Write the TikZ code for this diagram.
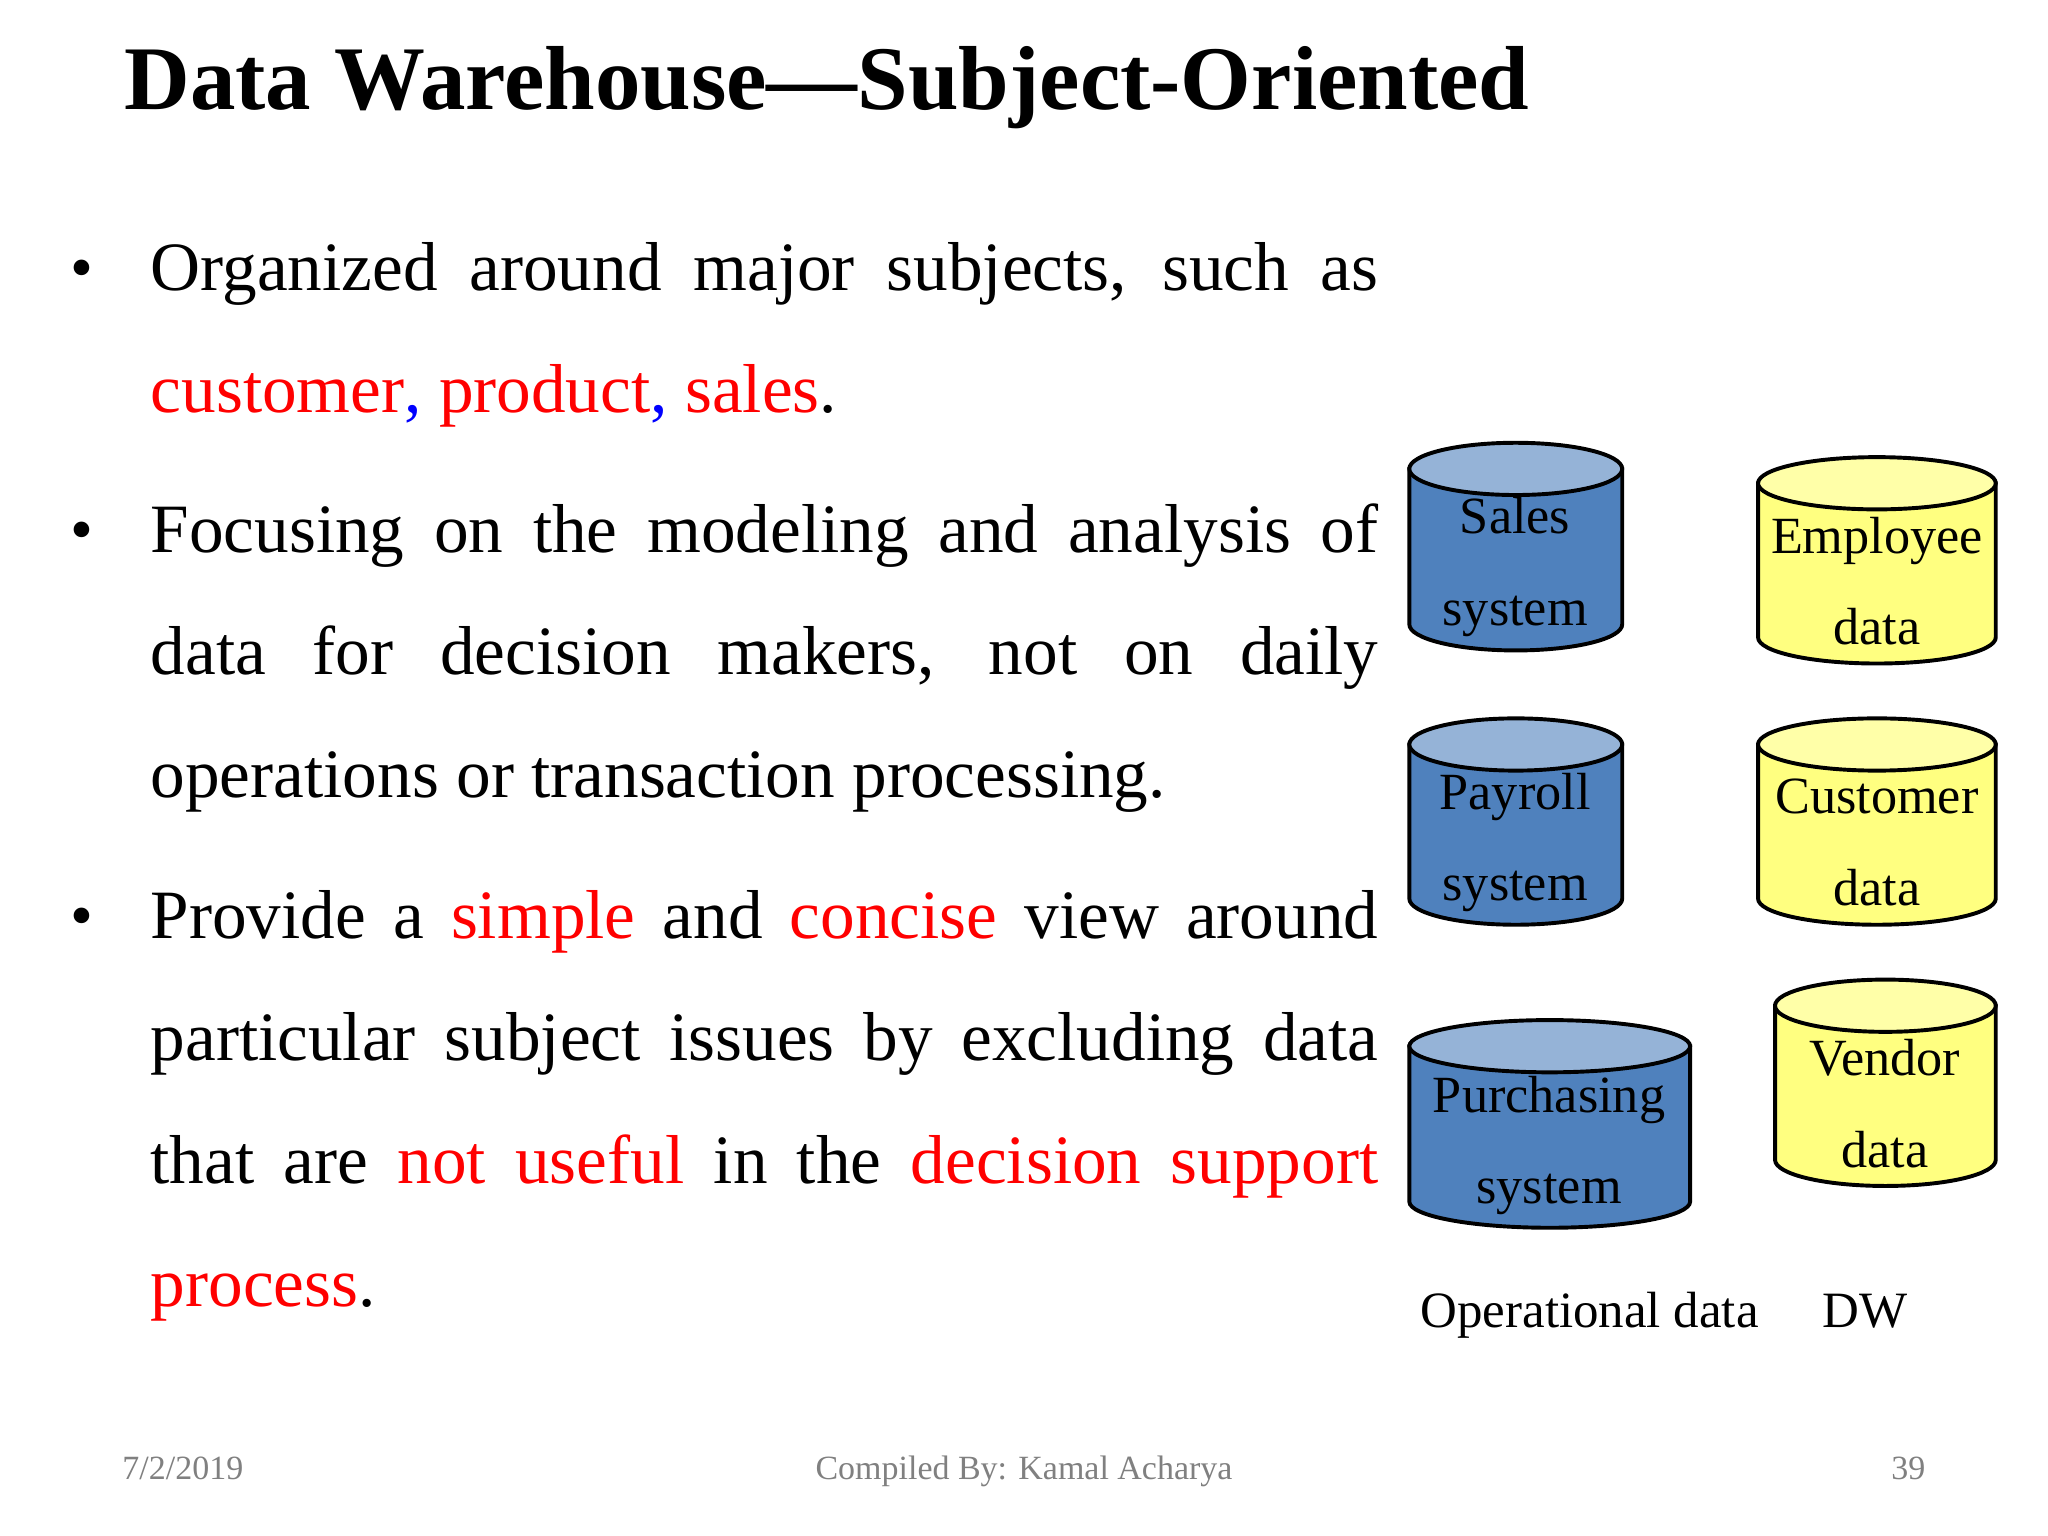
\documentclass[tikz,border=0pt]{standalone}
\usepackage{fontspec}
\setmainfont{Liberation Serif}
\definecolor{bluef}{HTML}{4F81BD}
\definecolor{bluet}{HTML}{95B3D7}
\definecolor{yel}{HTML}{FFFF80}
\definecolor{yelt}{HTML}{FFFFA8}
\definecolor{myred}{HTML}{FF0000}
\hyphenpenalty=10000 \exhyphenpenalty=10000 \hbadness=10000
\begin{document}
\begin{tikzpicture}[x=0.5pt,y=-0.5pt,
  body/.style={anchor=north west,text width=470pt,align=justify,inner sep=0pt,font=\fontsize{26.5}{47}\selectfont},
  bul/.style={anchor=base,inner sep=0pt,font=\fontsize{25}{30}\selectfont},
  cyl/.style={font=\fontsize{20}{35}\selectfont,align=center,inner sep=0pt},
  foot/.style={font=\fontsize{13}{15}\selectfont,text=gray,anchor=base}]
\useasboundingbox (0,0) rectangle (1568,1176);
\fill[white] (0,0) rectangle (1568,1176);
\node[anchor=base west,inner sep=0pt,font=\fontsize{34.8}{38}\selectfont\bfseries] (title) at (95,84) {Data Warehouse---Subject-Oriented};
\node[bul] (b1) at (63,222) {\textbullet};
\node[bul] (b2) at (63,422) {\textbullet};
\node[bul] (b3) at (63,718) {\textbullet};
\node[body] (p1) at (115,185) {Organized around major subjects, such as \textcolor{myred}{customer}\textcolor{blue}{,} \textcolor{myred}{product}\textcolor{blue}{,} \textcolor{myred}{sales}.};
\node[body] (p2) at (115,385) {Focusing on the modeling and analysis of data for decision makers, not on daily operations or transaction processing.};
\node[body] (p3) at (115,681) {Provide a \textcolor{myred}{simple} and \textcolor{myred}{concise} view around particular subject issues by excluding data that are \textcolor{myred}{not useful} in the \textcolor{myred}{decision support} \textcolor{myred}{process}.};
\newcommand{\mycyl}[6]{%
  \pgfmathsetmacro{\rx}{(#2-#1)/2}\pgfmathsetmacro{\cx}{(#2+#1)/2}
  \draw[line width=1.5pt,fill=#5] (#1,#3) -- (#1,#4) arc[start angle=180,end angle=0,x radius=\rx,y radius=20] -- (#2,#3) -- cycle;
  \draw[line width=1.5pt,fill=#6] (\cx,#3) ellipse[x radius=\rx,y radius=20];}
\mycyl{1079}{1242}{359}{478}{bluef}{bluet}
\mycyl{1079}{1242}{570}{688}{bluef}{bluet}
\mycyl{1079}{1294}{801}{920}{bluef}{bluet}
\mycyl{1346}{1528}{370}{488}{yel}{yelt}
\mycyl{1346}{1528}{570}{688}{yel}{yelt}
\mycyl{1359}{1528}{770}{888}{yel}{yelt}
\node[cyl] (c1) at (1160,434) {Sales\\system};
\node[cyl] (c2) at (1160,645) {Payroll\\system};
\node[cyl] (c3) at (1186,877) {Purchasing\\system};
\node[cyl] (c4) at (1437,445) {Employee\\data};
\node[cyl] (c5) at (1437,645) {Customer\\data};
\node[cyl] (c6) at (1443,845) {Vendor\\data};
\node[anchor=base,inner sep=0pt,font=\fontsize{19.5}{22}\selectfont] (op) at (1217,1016) {Operational data};
\node[anchor=base,inner sep=0pt,font=\fontsize{19.5}{22}\selectfont] (dw) at (1428,1016) {DW};
\node[foot] (f1) at (140,1133) {7/2/2019};
\node[foot] (f2) at (784,1133) {Compiled By: Kamal Acharya};
\node[foot] (f3) at (1461,1133) {39};
\end{tikzpicture}
\end{document}
